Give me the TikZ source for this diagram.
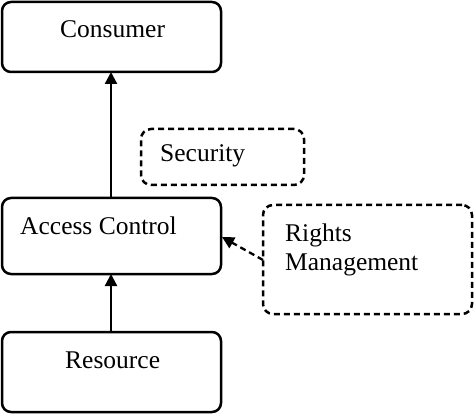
\documentclass[tikz,border=0pt]{standalone}
\usepackage{fontspec}
\setmainfont{Liberation Serif}
\usetikzlibrary{arrows.meta}
\begin{document}
\begin{tikzpicture}[x=1pt,y=-1pt,
  solidbox/.style={draw,line width=2.5pt,rounded corners=9pt,inner sep=0pt},
  dashbox/.style={draw,line width=2.5pt,rounded corners=10pt,inner sep=0pt,dash pattern=on 6pt off 4pt},
  lbl/.style={inner sep=0pt,anchor=west,font=\fontsize{25.5}{30}\selectfont},
  arr/.style={line width=2.3pt,-{Triangle[length=12pt,width=12pt]}}]
\useasboundingbox (0,0) rectangle (474,414);
\node[solidbox,minimum width=219pt,minimum height=70pt] (cons) at (111.5,37) {};
\node[solidbox,minimum width=219pt,minimum height=76pt] (acc) at (111.5,236) {};
\node[solidbox,minimum width=219pt,minimum height=80pt] (res) at (111.5,372) {};
\node[dashbox,minimum width=163pt,minimum height=56pt] (sec) at (222.5,157) {};
\node[dashbox,minimum width=209pt,minimum height=109pt] (rm) at (367.5,259.5) {};
\node[lbl] (tcons) at (60,29) {Consumer};
\node[lbl] (tacc) at (20,226) {Access Control};
\node[lbl] (tres) at (65,360) {Resource};
\node[lbl] (tsec) at (160,156) {Security};
\node[lbl] (trights) at (285,235) {Rights};
\node[lbl] (tman) at (285,265) {Management};
\coordinate (accTop) at (111,198);
\coordinate (consBot) at (111,72);
\coordinate (resTop) at (111,332);
\coordinate (accBot) at (111,274);
\coordinate (rmL) at (263,260);
\coordinate (accR) at (222,237);
\draw[arr] (accTop) -- (consBot);
\draw[arr] (resTop) -- (accBot);
\draw[arr,dash pattern=on 6pt off 4pt] (rmL) -- (accR);
\end{tikzpicture}
\end{document}
